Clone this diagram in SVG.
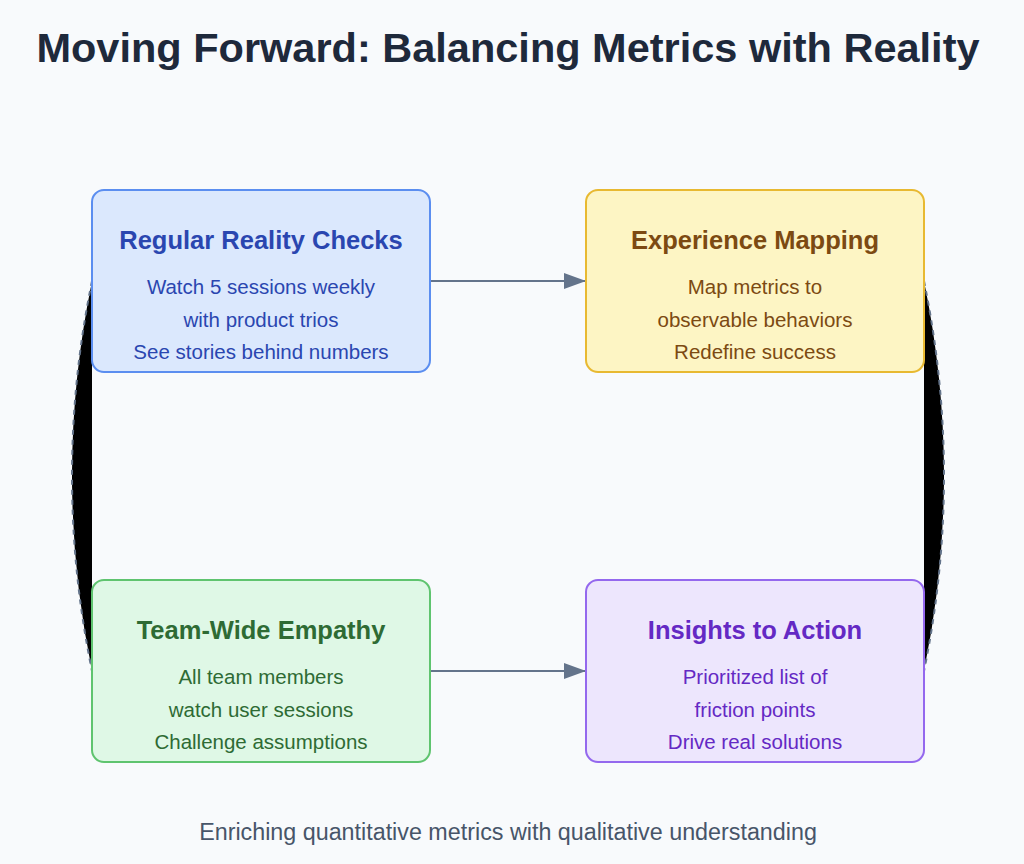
<svg xmlns="http://www.w3.org/2000/svg" width="1024" height="864" viewBox="0 0 1024 864">
<style>
text{font-family:"Liberation Sans",Arial,sans-serif;text-anchor:middle}
.t{font-size:25.5px;font-weight:bold}
.b{font-size:20.5px}
.box{stroke-width:2}
.c{stroke:#64748b;stroke-width:2}
.d{stroke:#64748b;stroke-width:2;stroke-dasharray:5,5;fill:#000}
</style>
<defs><marker id="a" markerWidth="22" markerHeight="16" refX="22" refY="8" orient="auto" markerUnits="userSpaceOnUse"><path d="M0,0L22,8L0,16z" fill="#64748b"/></marker></defs>
<rect width="1024" height="864" fill="#f8fafc"/>
<text x="508" y="62" style="font-size:41.5px;font-weight:bold" fill="#1e293b">Moving Forward: Balancing Metrics with Reality</text>
<g id="connectors">
<path class="c" d="M430,281H586" marker-end="url(#a)"/>
<path class="c" d="M430,671H586" marker-end="url(#a)"/>
<path class="d" d="M92,281Q52,476 92,671"/>
<path class="d" d="M924,281Q964,476 924,671"/>
</g>
<g id="n1"><rect class="box" x="92" y="190" width="338" height="182" rx="12" fill="#dbe8fd" stroke="#5b8ef0"/>
<text class="t" x="261" y="249" fill="#2a46b0">Regular Reality Checks</text>
<text class="b" x="261" y="294" fill="#2a46b0">Watch 5 sessions weekly</text>
<text class="b" x="261" y="327" fill="#2a46b0">with product trios</text>
<text class="b" x="261" y="359" fill="#2a46b0">See stories behind numbers</text></g>
<g id="n2"><rect class="box" x="586" y="190" width="338" height="182" rx="12" fill="#fdf5c4" stroke="#e8b931"/>
<text class="t" x="755" y="249" fill="#7c4a12">Experience Mapping</text>
<text class="b" x="755" y="294" fill="#7c4a12">Map metrics to</text>
<text class="b" x="755" y="327" fill="#7c4a12">observable behaviors</text>
<text class="b" x="755" y="359" fill="#7c4a12">Redefine success</text></g>
<g id="n3"><rect class="box" x="92" y="580" width="338" height="182" rx="12" fill="#dff8e6" stroke="#5fc46f"/>
<text class="t" x="261" y="639" fill="#2e6b34">Team-Wide Empathy</text>
<text class="b" x="261" y="684" fill="#2e6b34">All team members</text>
<text class="b" x="261" y="717" fill="#2e6b34">watch user sessions</text>
<text class="b" x="261" y="749" fill="#2e6b34">Challenge assumptions</text></g>
<g id="n4"><rect class="box" x="586" y="580" width="338" height="182" rx="12" fill="#ede6fd" stroke="#9468ee"/>
<text class="t" x="755" y="639" fill="#6429c4">Insights to Action</text>
<text class="b" x="755" y="684" fill="#6429c4">Prioritized list of</text>
<text class="b" x="755" y="717" fill="#6429c4">friction points</text>
<text class="b" x="755" y="749" fill="#6429c4">Drive real solutions</text></g>
<text x="508" y="840" style="font-size:23.3px" fill="#475569">Enriching quantitative metrics with qualitative understanding</text>
</svg>
